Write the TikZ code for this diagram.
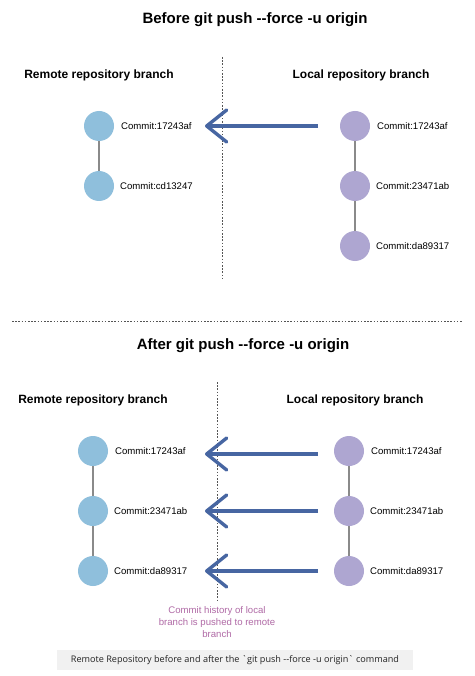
\documentclass[tikz,border=0pt]{standalone}
\usepackage{fontspec}
\setmainfont{Liberation Sans}
\newfontfamily\arialf{Liberation Sans}
\newfontfamily\capfont{Open Sans}
\usetikzlibrary{arrows.meta}
\definecolor{remoteblue}{HTML}{8FBFDC}
\definecolor{locallav}{HTML}{AEA6D1}
\definecolor{arrowblue}{HTML}{4766A2}
\definecolor{pinktxt}{HTML}{B06AA6}
\definecolor{capbg}{HTML}{F1F1F1}
\definecolor{sepgray}{HTML}{555555}
\definecolor{linkgray}{HTML}{8A8A8A}
\definecolor{captxt}{HTML}{222222}
\tikzset{
  commit/.style={circle, minimum size=30pt, inner sep=0pt},
  rcommit/.style={commit, fill=remoteblue},
  lcommit/.style={commit, fill=locallav},
  clabel/.style={anchor=west, inner sep=0pt, font=\arialf\fontsize{9.6}{11}\selectfont},
  heading/.style={font=\arialf\bfseries\fontsize{12}{14}\selectfont, inner sep=0pt},
  bigtitle/.style={font=\arialf\bfseries\fontsize{15}{18}\selectfont, inner sep=0pt},
  link/.style={draw=linkgray, line width=1.2pt},
  pusharrow/.style={draw=arrowblue, line width=3.4pt, -{Straight Barb[length=20pt,width=32pt,round]}},
  sep/.style={draw=sepgray, line width=0.8pt, dash pattern=on 1.6pt off 1.6pt},
}
\begin{document}
\begin{tikzpicture}[x=1pt,y=-1pt]
\useasboundingbox (0,0) rectangle (474,676);
\fill[white] (0,0) rectangle (474,676);

% ---------- Before ----------
\node[bigtitle] (t1) at (255,20) {Before git push --force -u origin};
\coordinate (v1a) at (222,57);
\coordinate (v1b) at (222,280);
\draw[sep] (v1a) -- (v1b);
\node[heading] (rh1) at (99,75) {Remote repository branch};
\node[heading] (lh1) at (361,75) {Local repository branch};

\node[rcommit] (r11) at (99,126) {};
\node[rcommit] (r12) at (99,186) {};
\draw[link] (r11) -- (r12);
\node[clabel] (r11l) at (121,126) {Commit:17243af};
\node[clabel] (r12l) at (120,186) {Commit:cd13247};

\node[lcommit] (l11) at (355,126) {};
\node[lcommit] (l12) at (355,186) {};
\node[lcommit] (l13) at (355,246) {};
\draw[link] (l11) -- (l12);
\draw[link] (l12) -- (l13);
\node[clabel] (l11l) at (377,126) {Commit:17243af};
\node[clabel] (l12l) at (376,186) {Commit:23471ab};
\node[clabel] (l13l) at (376,246) {Commit:da89317};

\coordinate (a1s) at (318,126);
\coordinate (a1e) at (205,126);
\draw[pusharrow] (a1s) -- (a1e);

% ---------- separator ----------
\coordinate (hA) at (12,321);
\coordinate (hB) at (462,321);
\draw[sep] (hA) -- (hB);

% ---------- After ----------
\node[bigtitle] (t2) at (243,346) {After git push --force -u origin};
\coordinate (v2a) at (217,382);
\coordinate (v2b) at (217,600);
\draw[sep] (v2a) -- (v2b);
\node[heading] (rh2) at (93,400) {Remote repository branch};
\node[heading] (lh2) at (355,400) {Local repository branch};

\node[rcommit] (r21) at (93,451) {};
\node[rcommit] (r22) at (93,511) {};
\node[rcommit] (r23) at (93,571) {};
\draw[link] (r21) -- (r22);
\draw[link] (r22) -- (r23);
\node[clabel] (r21l) at (115,451) {Commit:17243af};
\node[clabel] (r22l) at (114,511) {Commit:23471ab};
\node[clabel] (r23l) at (114,571) {Commit:da89317};

\node[lcommit] (l21) at (349,451) {};
\node[lcommit] (l22) at (349,511) {};
\node[lcommit] (l23) at (349,571) {};
\draw[link] (l21) -- (l22);
\draw[link] (l22) -- (l23);
\node[clabel] (l21l) at (371,451) {Commit:17243af};
\node[clabel] (l22l) at (370,511) {Commit:23471ab};
\node[clabel] (l23l) at (370,571) {Commit:da89317};

\coordinate (a2s) at (318,454);
\coordinate (a2e) at (205,454);
\coordinate (a3s) at (318,511);
\coordinate (a3e) at (205,511);
\coordinate (a4s) at (318,571);
\coordinate (a4e) at (205,571);
\draw[pusharrow] (a2s) -- (a2e);
\draw[pusharrow] (a3s) -- (a3e);
\draw[pusharrow] (a4s) -- (a4e);

\node[text=pinktxt, align=center, inner sep=0pt, font=\arialf\fontsize{9.6}{11.6}\selectfont] (note) at (217,622)
  {Commit history of local\\branch is pushed to remote\\branch};

\node[fill=capbg, minimum width=356pt, minimum height=20pt, inner sep=0pt] (capbox) at (235,660) {};
\node[inner sep=0pt, text=captxt, font=\capfont\fontsize{9.1}{11}\selectfont] (cap) at (235,660)
  {Remote Repository before and after the `git push --force -u origin` command};
\end{tikzpicture}
\end{document}
